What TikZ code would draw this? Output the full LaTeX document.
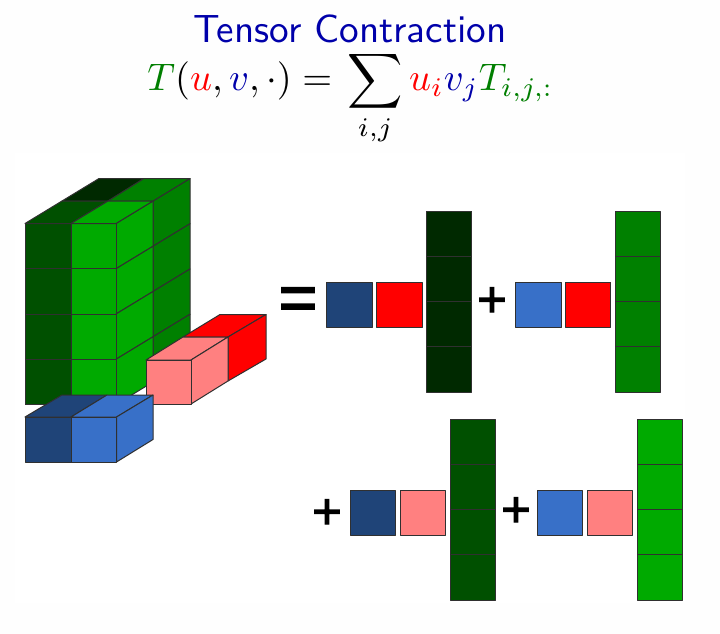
\documentclass[tikz,border=0pt]{standalone}
\usepackage{fontspec}
\newfontfamily\opfont[FakeBold=2.5]{Liberation Sans}
\definecolor{gA}{HTML}{002900}
\definecolor{gB}{HTML}{005000}
\definecolor{gC}{HTML}{008000}
\definecolor{gD}{HTML}{00AA00}
\definecolor{bA}{HTML}{1F4478}
\definecolor{bB}{HTML}{3870C8}
\definecolor{rA}{HTML}{FF0000}
\definecolor{rB}{HTML}{FF8080}
\definecolor{edgeC}{HTML}{303030}
\definecolor{titleC}{HTML}{0000AA}
\definecolor{eqG}{HTML}{007F00}
\definecolor{pageC}{HTML}{FEFEFE}
\tikzset{
  x=1pt,y=-1pt,
  cell/.style={draw=edgeC,line width=1pt,line join=round},
  opsign/.style={inner sep=0pt,font=\opfont},
}
% quad: fill colour, four corners
\newcommand{\qd}[5]{\path[cell,fill=#1] #2 -- #3 -- #4 -- #5 -- cycle;}
% square: colour, x0, y0, x1, y1
\newcommand{\sq}[5]{\path[cell,fill=#1] (#2,#3) rectangle (#4,#5);}
% column of four: colour, x0, top y
\newcommand{\colfour}[3]{%
  \pgfmathsetmacro{\xe}{#2+45}%
  \foreach \k in {0,1,2,3}{%
    \pgfmathsetmacro{\ya}{#3+45.25*\k}%
    \pgfmathsetmacro{\yb}{\ya+45.25}%
    \path[cell,fill=#1] (#2,\ya) rectangle (\xe,\yb);}}
\begin{document}
\begin{tikzpicture}
\useasboundingbox (0,0) rectangle (720,634);
\fill[pageC] (0,0) rectangle (720,634);
\fill[white] (15,153) rectangle (685,603);
% title and equation
\node[inner sep=0pt,anchor=base,scale=3.92,text=titleC,font=\sffamily] (title) at (350,43) {Tensor Contraction};
\node[inner sep=0pt,anchor=base,scale=3.84] (eqn) at (350.5,91) {$\displaystyle \textcolor{eqG}{T}(\textcolor{red}{u},\textcolor{titleC}{v},\cdot)=\mkern2mu\sum_{i,j}\textcolor{red}{u_i}\textcolor{titleC}{v_j}\textcolor{eqG}{T_{i,j,:}}$};
% big tensor: back side column, top, front
\foreach \k in {0,1,2,3}{
  \pgfmathsetmacro{\ya}{178.5+45.25*\k}\pgfmathsetmacro{\yb}{\ya+45.25}
  \pgfmathsetmacro{\yc}{201+45.25*\k}\pgfmathsetmacro{\yd}{\yc+45.25}
  \pgfmathsetmacro{\ye}{223.5+45.25*\k}\pgfmathsetmacro{\yf}{\ye+45.25}
  \qd{gC}{(153,\yc)}{(190,\ya)}{(190,\yb)}{(153,\yd)}
  \qd{gD}{(116,\ye)}{(153,\yc)}{(153,\yd)}{(116,\yf)}
  \sq{gB}{25}{\ye}{71}{\yf}
  \sq{gD}{71}{\ye}{116}{\yf}
}
\qd{gA}{(62,201)}{(108,201)}{(144,178.5)}{(99,178.5)}
\qd{gC}{(108,201)}{(153,201)}{(190,178.5)}{(144,178.5)}
\qd{gB}{(25,223.5)}{(71,223.5)}{(108,201)}{(62,201)}
\qd{gD}{(71,223.5)}{(116,223.5)}{(153,201)}{(108,201)}
% red vector
\qd{rA}{(183,337)}{(228,337)}{(266,314.5)}{(220,314.5)}
\qd{rA}{(228,337)}{(266,314.5)}{(266,359)}{(228,381)}
\qd{rB}{(146,360)}{(191,360)}{(228,337)}{(183,337)}
\qd{rB}{(191,360)}{(228,337)}{(228,381)}{(191,404)}
\sq{rB}{146}{360}{191}{404}
% blue vector
\qd{bA}{(25,417)}{(71,417)}{(107,395)}{(62,395)}
\qd{bB}{(71,417)}{(116.5,417)}{(153,395)}{(107,395)}
\qd{bB}{(116.5,417)}{(153,395)}{(153,439.5)}{(116.5,462)}
\sq{bA}{25}{417}{71}{462}
\sq{bB}{71}{417}{116.5}{462}
% flat terms, upper row
\node[opsign,scale=6.6,anchor=center] (eqsign) at (298,304) {=};
\sq{bA}{326.7}{282}{372}{327}
\sq{rA}{376.7}{282}{422}{327}
\colfour{gA}{426.5}{211}
\node[opsign,scale=5,anchor=center] (plusa) at (492,302) {+};
\sq{bB}{515.7}{282}{561}{327}
\sq{rA}{565.3}{282}{610.7}{327}
\colfour{gC}{615.3}{211}
% flat terms, lower row
\node[opsign,scale=5,anchor=center] (plusb) at (327,514) {+};
\sq{bA}{350.7}{490.3}{395.3}{535.3}
\sq{rB}{400.3}{490.3}{445.3}{535.3}
\colfour{gB}{450}{419}
\node[opsign,scale=5,anchor=center] (plusc) at (516,512) {+};
\sq{bB}{537}{490.3}{582}{535.3}
\sq{rB}{587}{490.3}{632}{535.3}
\colfour{gD}{637}{419}
\end{tikzpicture}
\end{document}
